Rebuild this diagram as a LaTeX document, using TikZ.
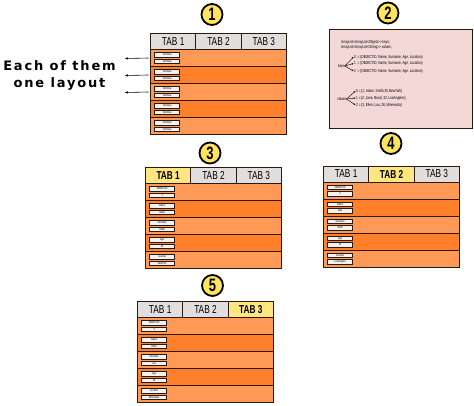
\documentclass[tikz,border=0pt]{standalone}
\usepackage{fontspec}
\setmainfont{Liberation Sans}
\newfontfamily\condfont[FakeStretch=0.72]{Liberation Sans}
\newfontfamily\spacedfont[LetterSpace=14]{DejaVu Sans}
\usetikzlibrary{arrows.meta}
\definecolor{rowlight}{HTML}{FF9955}
\definecolor{rowdark}{HTML}{FF7F2A}
\definecolor{edge}{HTML}{2B1A10}
\definecolor{tabgray}{HTML}{E3DEDE}
\definecolor{tabsel}{HTML}{FFE680}
\definecolor{pinkbg}{HTML}{F4D7D7}
\definecolor{badge}{HTML}{FFE45E}
\tikzset{
  tabbox/.style={draw=edge, line width=1pt, fill=tabgray, minimum width=45.33pt, minimum height=16pt, inner sep=0pt, anchor=north west, font=\condfont\fontsize{11.5}{11.5}\selectfont},
  selbox/.style={tabbox, fill=tabsel, font=\condfont\bfseries\fontsize{11.5}{11.5}\selectfont},
  rowbox/.style={draw=edge, line width=1pt, minimum width=136pt, minimum height=17pt, anchor=north west, inner sep=0pt},
  lbl/.style={draw=edge, line width=1.2pt, fill=white!90!gray, minimum width=25pt, minimum height=4.5pt, inner sep=0pt, anchor=north west, font=\condfont\fontsize{3}{3}\selectfont},
  badgenode/.style={circle, draw=black, line width=1.8pt, fill=badge, minimum size=21pt, inner sep=0pt, font=\condfont\bfseries\fontsize{18}{18}\selectfont},
  codetxt/.style={anchor=west, inner sep=0pt, font=\condfont\fontsize{4.3}{4.3}\selectfont},
  pointer/.style={line width=0.6pt, -{Stealth[length=3pt,width=2.5pt]}},
  fan/.style={line width=0.4pt, -{Stealth[length=2pt,width=1.6pt]}}
}
\newcommand\tabpanel[5]{%
  \foreach \t in {1,2,3}{%
    \pgfmathsetmacro\tx{#2+(\t-1)*45.333}%
    \ifnum\t=#4\relax
      \node[selbox] (#1-t\t) at (\tx,#3) {TAB \t};
    \else
      \node[tabbox] (#1-t\t) at (\tx,#3) {TAB \t};
    \fi
  }%
  \foreach [count=\r] \a/\b in {#5}{%
    \pgfmathsetmacro\ry{#3+16+(\r-1)*17}%
    \ifodd\r\def\rc{rowlight}\else\def\rc{rowdark}\fi
    \node[rowbox, fill=\rc] (#1-r\r) at (#2,\ry) {};
    \node[lbl] (#1-r\r a) at (#2+4,\ry+3) {\a};
    \node[lbl] (#1-r\r b) at (#2+4,\ry+9.5) {\b};
  }%
}
\begin{document}
\begin{tikzpicture}[x=1pt,y=-1pt]
\useasboundingbox[fill=white] (0,0) rectangle (474,405);

% badges
\node[badgenode] (b1) at (212,14.5) {1};
\node[badgenode] (b2) at (388,13) {2};
\node[badgenode] (b3) at (210,153) {3};
\node[badgenode] (b4) at (391,143.5) {4};
\node[badgenode] (b5) at (212.5,285.5) {5};

% panel 1
\tabpanel{p1}{150}{33}{0}{TextView/TextView,TextView/TextView,TextView/TextView,TextView/TextView,TextView/TextView}

% left caption
\node[font=\spacedfont\bfseries\fontsize{13}{13}\selectfont, align=center, inner sep=0pt] (cap) at (59.5,75.5) {Each of them\\[4.5pt]one layout};
\coordinate (a1) at (125,58.5);
\coordinate (a2) at (125,75.5);
\coordinate (a3) at (125,92.5);
\draw[pointer] ([xshift=-1.5pt]p1-r1.west) -- (a1);
\draw[pointer] ([xshift=-1.5pt]p1-r2.west) -- (a2);
\draw[pointer] ([xshift=-1.5pt]p1-r3.west) -- (a3);

% panel 2
\node[draw=edge, line width=1pt, fill=pinkbg, minimum width=143pt, minimum height=99pt, anchor=north west, inner sep=0pt] (code) at (328.5,28.5) {};
\node[codetxt] (d1) at (341,42) {ArrayList<ArrayList<Object>> keys;};
\node[codetxt] (d2) at (341,47) {ArrayList<ArrayList<String>> values;};
\node[codetxt] (keys) at (338,66) {keys};
\node[codetxt] (k0) at (354,57) {0\ \ = \{OBJECTID, Name, Surname, Age, Location\}};
\node[codetxt] (k1) at (354,63.5) {1\ \ = \{OBJECTID, Name, Surname, Age, Location\}};
\node[codetxt] (k2) at (354,71) {2\ \ = \{OBJECTID, Name, Surname, Age, Location\}};
\draw[fan] (keys.east) -- ([xshift=-0.5pt]k0.west);
\draw[fan] (keys.east) -- ([xshift=-0.5pt]k1.west);
\draw[fan] (keys.east) -- ([xshift=-0.5pt]k2.west);
\node[codetxt] (vals) at (337,99) {values};
\node[codetxt] (v0) at (356,91) {0 = \{1, Adam, Smith,25,NewYork\}};
\node[codetxt] (v1) at (356,98) {1 = \{2 ,Jane, Bond, 32, LosAngeles\}};
\node[codetxt] (v2) at (356,105) {2 = \{3, Ellen, Lou, 28, Minnesota\}};
\draw[fan] (vals.east) -- ([xshift=-0.5pt]v0.west);
\draw[fan] (vals.east) -- ([xshift=-0.5pt]v1.west);
\draw[fan] (vals.east) -- ([xshift=-0.5pt]v2.west);

% panel 3
\tabpanel{p3}{145}{167}{1}{OBJECTID/1,Name/Adam,Surname/Smith,Age/25,Location/NewYork}
% panel 4
\tabpanel{p4}{323}{165.5}{2}{OBJECTID/2,Name/Jane,Surname/Bond,Age/32,Location/LosAngeles}
% panel 5
\tabpanel{p5}{137}{301}{3}{OBJECTID/3,Name/Ellen,Surname/Lou,Age/28,Location/Minnesota}
\end{tikzpicture}
\end{document}
